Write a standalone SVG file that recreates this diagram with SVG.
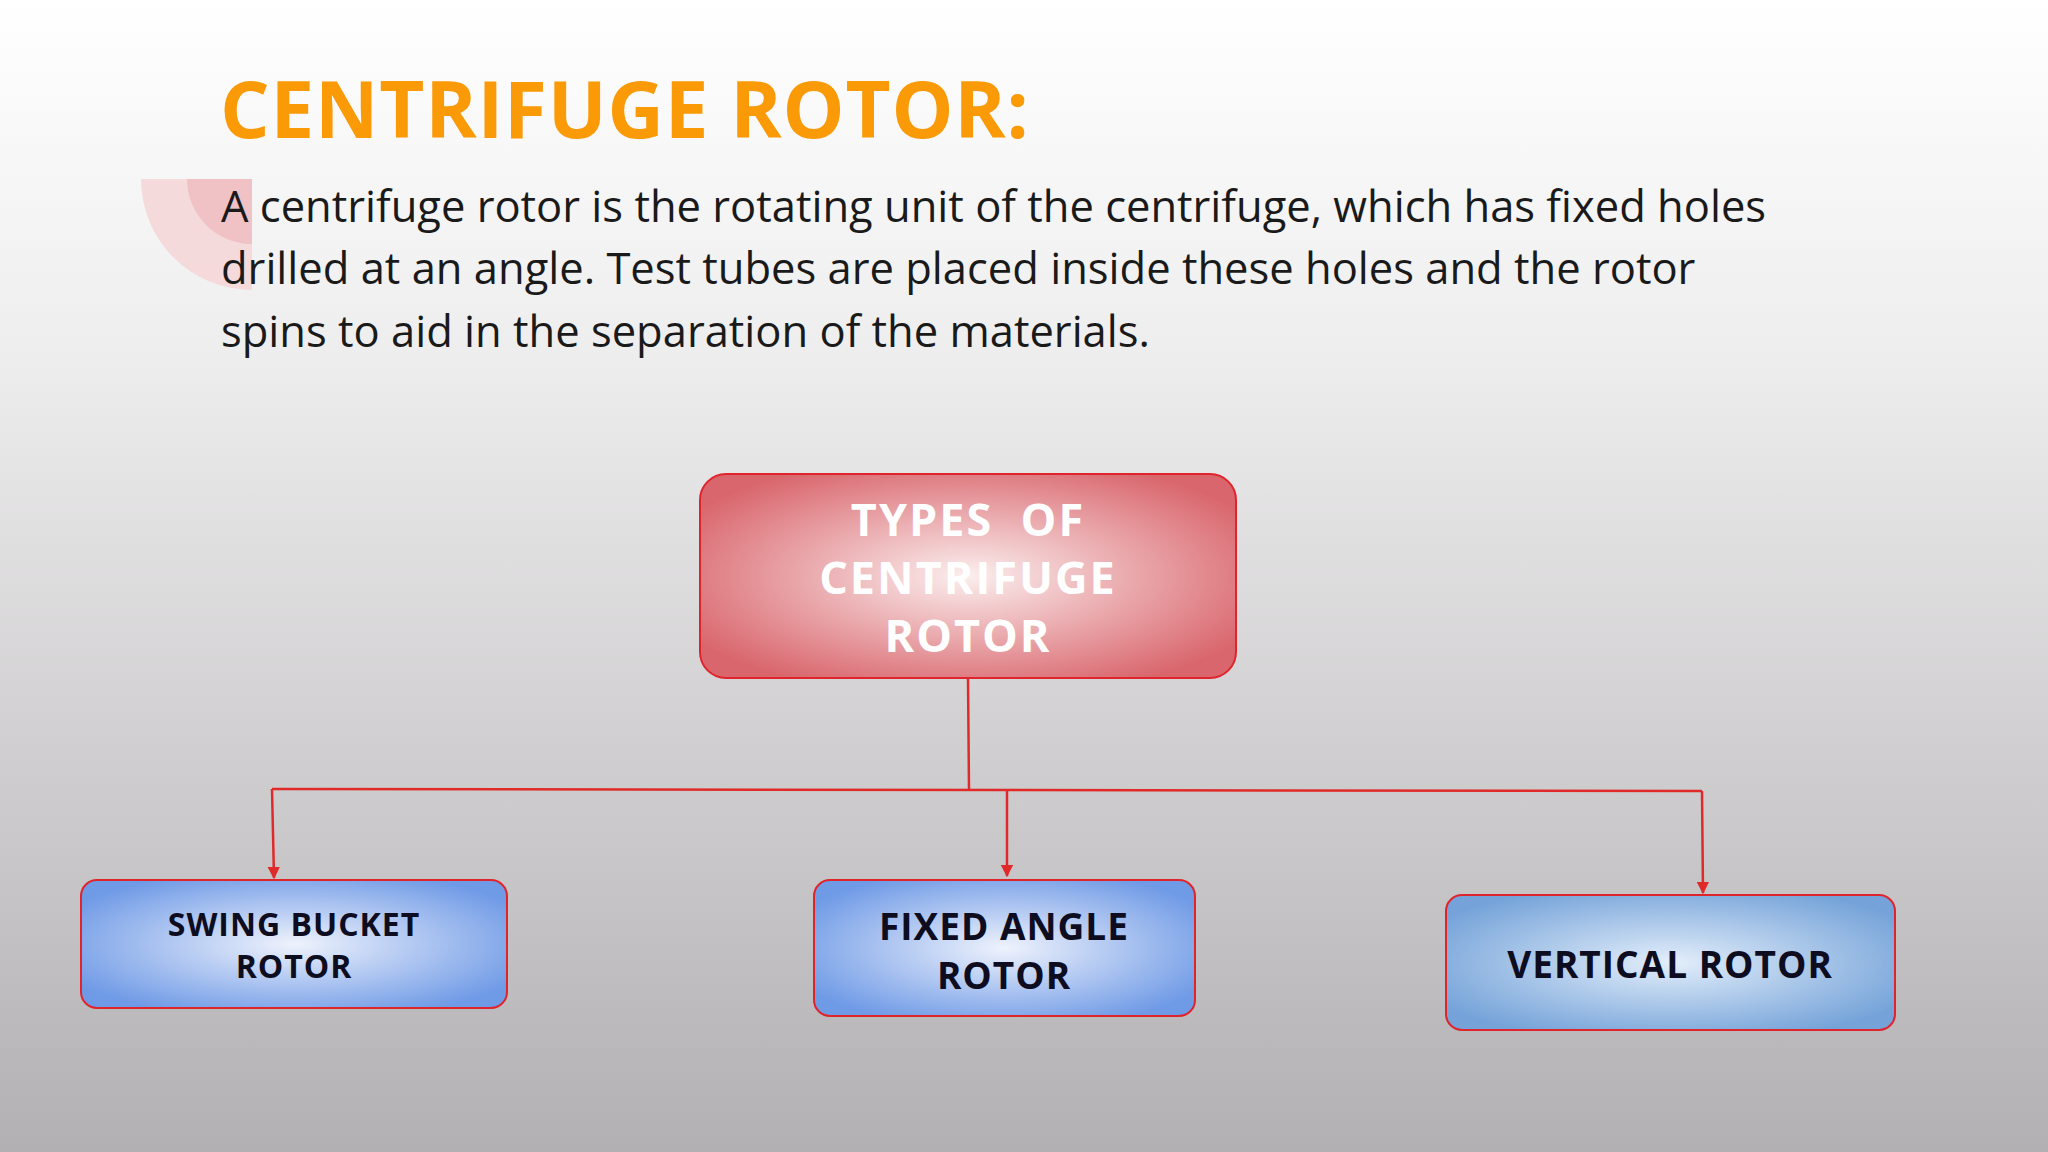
<svg xmlns="http://www.w3.org/2000/svg" width="2048" height="1152" viewBox="0 0 2048 1152">
<defs>
<linearGradient id="bg" x1="0" y1="0" x2="0" y2="1"><stop offset="0" stop-color="#ffffff"/><stop offset="0.3" stop-color="#efeeef"/><stop offset="1" stop-color="#b2b0b2"/></linearGradient>
<radialGradient id="red" cx="0.5" cy="0.5" r="0.6"><stop offset="0" stop-color="#fbeeee"/><stop offset="1" stop-color="#d9666d"/></radialGradient>
<radialGradient id="blue" cx="0.5" cy="0.5" r="0.6"><stop offset="0" stop-color="#eef2fc"/><stop offset="1" stop-color="#6f9ae6"/></radialGradient>
<radialGradient id="blue2" cx="0.5" cy="0.5" r="0.6"><stop offset="0" stop-color="#e3eefa"/><stop offset="1" stop-color="#75a3d9"/></radialGradient>
<marker id="ah" viewBox="0 0 10 10" refX="9" refY="5" markerWidth="5" markerHeight="5" orient="auto"><path d="M0 0L10 5L0 10z" fill="#e02a2a"/></marker>
<style>
.box{stroke:#e0242c;stroke-width:2}
.conn{stroke:#e02a2a;stroke-width:2.5;fill:none}
.lbl{font-family:"Open Sans","DejaVu Sans",sans-serif;font-weight:bold;text-anchor:middle;fill:#0d0d1f;letter-spacing:1px}
</style>
</defs>
<rect width="2048" height="1152" fill="url(#bg)"/>
<path d="M252 179 L141 179 A111 111 0 0 0 252 290 Z" fill="#f5d3d5" opacity="0.8"/>
<path d="M252 179 L187 179 A65 65 0 0 0 252 244 Z" fill="#efbcc0" opacity="0.8"/>
<text x="220" y="138" font-family="'Open Sans',sans-serif" font-weight="bold" font-size="78" letter-spacing="0.8" fill="#fa9a06">CENTRIFUGE ROTOR:</text>
<g font-family="'Open Sans',sans-serif" font-size="43.5" fill="#1a1a1a">
<text x="221" y="222">A centrifuge rotor is the rotating unit of the centrifuge, which has fixed holes</text>
<text x="221" y="284">drilled at an angle. Test tubes are placed inside these holes and the rotor</text>
<text x="221" y="347">spins to aid in the separation of the materials.</text>
</g>
<g id="connectors">
<path class="conn" d="M968 678 L969 789"/>
<path class="conn" d="M272 789 L1702 791"/>
<path class="conn" d="M272 789 L274 878" marker-end="url(#ah)"/>
<path class="conn" d="M1007 789 L1007 876" marker-end="url(#ah)"/>
<path class="conn" d="M1702 791 L1703 893" marker-end="url(#ah)"/>
</g>
<g id="top">
<rect class="box" x="700" y="474" width="536" height="204" rx="26" fill="url(#red)"/>
<g class="lbl" font-size="45" style="fill:#ffffff;letter-spacing:2px">
<text x="968" y="536" xml:space="preserve">TYPES  OF</text><text x="968" y="594">CENTRIFUGE</text><text x="968" y="652">ROTOR</text>
</g>
</g>
<g id="swing">
<rect class="box" x="81" y="880" width="426" height="128" rx="16" fill="url(#blue)"/>
<text class="lbl" x="294" y="936" font-size="32">SWING BUCKET</text><text class="lbl" x="294" y="978" font-size="32">ROTOR</text>
</g>
<g id="fixed">
<rect class="box" x="814" y="880" width="381" height="136" rx="16" fill="url(#blue)"/>
<text class="lbl" x="1004" y="940" font-size="37">FIXED ANGLE</text><text class="lbl" x="1004" y="989" font-size="37">ROTOR</text>
</g>
<g id="vertical">
<rect class="box" x="1446" y="895" width="449" height="135" rx="16" fill="url(#blue2)"/>
<text class="lbl" x="1670" y="978" font-size="37">VERTICAL ROTOR</text>
</g>
</svg>
